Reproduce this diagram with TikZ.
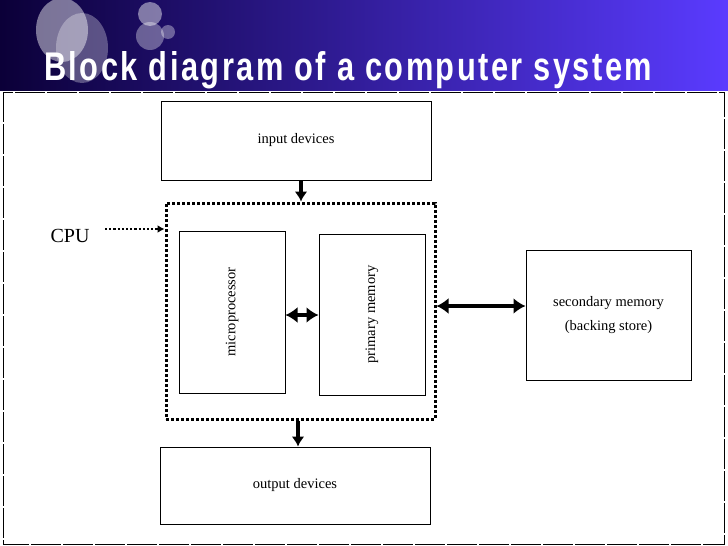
\documentclass[tikz,border=0pt]{standalone}
\usepackage{fontspec}
\setmainfont{Liberation Serif}
\newfontfamily\ttl{Liberation Sans}
\usetikzlibrary{arrows.meta}
\definecolor{navyA}{HTML}{0B0038}
\definecolor{navyB}{HTML}{5A3BFF}
\tikzset{
 box/.style={draw,line width=1pt,fill=white},
 lbl/.style={font=\fontsize{14.5}{16}\selectfont},
 arr/.style={line width=3.5pt,-{Latex[length=10pt,width=13pt]}},
 dbl/.style={line width=3.5pt,{Latex[length=12pt,width=16pt]}-{Latex[length=12pt,width=16pt]}},
}
\begin{document}
\begin{tikzpicture}[x=1pt,y=-1pt]
\useasboundingbox (0,0) rectangle (728,546);
\fill[white] (0,0) rectangle (728,546);
\shade[left color=navyA,right color=navyB] (0,0) rectangle (728,90);
\fill[white,opacity=0.45] (62,30) ellipse (26 and 32);
\fill[white,opacity=0.3] (82,48) ellipse (26 and 35);
\fill[white,opacity=0.45] (150,14) circle (12);
\fill[white,opacity=0.35] (150,36) circle (14);
\fill[white,opacity=0.35] (168,32) circle (7);
\node[anchor=base west,text=white,inner sep=0] (title) at (44,80)
 {\resizebox{608pt}{29pt}{\ttl\bfseries\addfontfeature{LetterSpace=8}Block diagram of a computer system}};
\draw[line width=0.6pt,dash pattern=on 30pt off 2pt] (3,92) rectangle (724,544);
\node[box,minimum width=270,minimum height=79,lbl] (in) at (296,140.5) {input devices};
\node[draw,line width=3pt,dotted,minimum width=269,minimum height=216] (cpu) at (300.5,311) {};
\node[box,minimum width=106,minimum height=162] (mp) at (232,312) {};
\node[lbl,rotate=90] (mpt) at (mp.center) {microprocessor};
\node[box,minimum width=106,minimum height=161] (pm) at (372,314.5) {};
\node[lbl,rotate=90] (pmt) at (pm.center) {primary memory};
\node[box,minimum width=165,minimum height=130,lbl,align=center] (sm) at (608.5,315) {secondary memory\\[8pt](backing store)};
\node[box,minimum width=270,minimum height=77,lbl] (out) at (295,485.5) {output devices};
\node[font=\fontsize{20}{22}\selectfont] (cpul) at (70,236) {CPU};
\coordinate (c1) at (105,229);
\draw[line width=2.2pt,dotted,-{Latex[length=7pt,width=8pt]}] (c1) -- (c1 -| cpu.west);
\draw[arr] (in.south -| 301,0) -- (cpu.north -| 301,0);
\draw[arr] (cpu.south -| 298,0) -- (out.north -| 298,0);
\draw[dbl] (mp.east |- 0,315) -- (pm.west |- 0,315);
\draw[dbl] (cpu.east |- 0,306) -- (sm.west |- 0,306);
\end{tikzpicture}
\end{document}
